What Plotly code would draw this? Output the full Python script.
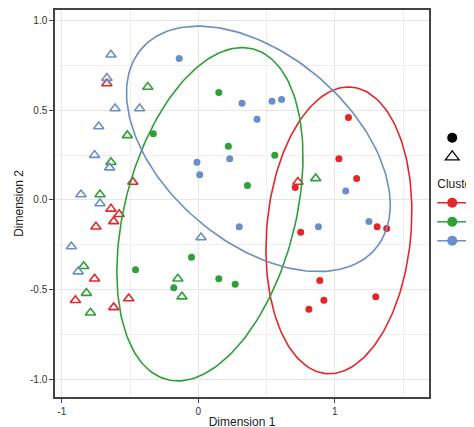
import numpy as np
import plotly.graph_objects as go

# Points: (cluster, type) -> x, y
A_BF_x = [1.10, 1.03, 1.16, 0.71, 0.75, 1.31, 1.38, 0.89, 0.92, 0.81, 1.30]
A_BF_y = [0.46, 0.23, 0.12, 0.07, -0.18, -0.15, -0.16, -0.45, -0.56, -0.61, -0.54]
A_PL_x = [-0.67, -0.48, -0.64, -0.58, -0.62, -0.75, -0.76, -0.90, -0.51, -0.62, 0.73]
A_PL_y = [0.65, 0.10, -0.05, -0.08, -0.12, -0.15, -0.44, -0.56, -0.55, -0.60, 0.10]
B_BF_x = [-0.33, -0.46, -0.18, 0.15, 0.22, 0.56, 0.36, -0.05, 0.15, 0.27]
B_BF_y = [0.37, -0.39, -0.49, 0.60, 0.30, 0.25, 0.08, -0.32, -0.44, -0.47]
B_PL_x = [-0.37, -0.52, -0.64, -0.72, -0.84, -0.82, -0.79, -0.15, -0.12, 0.86]
B_PL_y = [0.63, 0.36, 0.21, 0.03, -0.37, -0.52, -0.63, -0.44, -0.54, 0.12]
C_BF_x = [-0.14, 0.32, 0.54, 0.61, 0.43, -0.01, 0.23, 0.01, 1.08, 0.30, 0.88, 1.25]
C_BF_y = [0.79, 0.54, 0.55, 0.56, 0.45, 0.21, 0.23, 0.14, 0.05, -0.15, -0.15, -0.12]
C_PL_x = [-0.64, -0.67, -0.61, -0.43, -0.73, -0.76, -0.65, -0.86, -0.72, -0.93, -0.88, 0.02]
C_PL_y = [0.81, 0.68, 0.51, 0.51, 0.41, 0.25, 0.18, 0.03, -0.02, -0.26, -0.40, -0.21]

# Ellipses: center, conjugate half-diameters u and v
ell_A = dict(c=(1.03, -0.17), u=(0.53, 0.0), v=(0.07, 0.80))
ell_B = dict(c=(0.085, -0.08), u=(0.64, 0.0), v=(0.235, 0.93))
ell_C = dict(c=(0.44, 0.285), u=(0.86, 0.0), v=(-0.44, 0.685))

colors = {"A": "#E3262A", "B": "#2EA03A", "C": "#6A8EC8"}
data = {
    "A": (A_BF_x, A_BF_y, A_PL_x, A_PL_y, ell_A),
    "B": (B_BF_x, B_BF_y, B_PL_x, B_PL_y, ell_B),
    "C": (C_BF_x, C_BF_y, C_PL_x, C_PL_y, ell_C),
}

fig = go.Figure()
t = np.linspace(0, 2 * np.pi, 200)
for k, (bx, by, px, py, e) in data.items():
    col = colors[k]
    ex = e["c"][0] + e["u"][0] * np.cos(t) + e["v"][0] * np.sin(t)
    ey = e["c"][1] + e["u"][1] * np.cos(t) + e["v"][1] * np.sin(t)
    fig.add_trace(go.Scatter(x=ex, y=ey, mode="lines", line=dict(color=col, width=1.6),
                             showlegend=False, hoverinfo="skip"))
    fig.add_trace(go.Scatter(x=bx, y=by, mode="markers", showlegend=False,
                             marker=dict(symbol="circle", size=7, color=col)))
    fig.add_trace(go.Scatter(x=px, y=py, mode="markers", showlegend=False,
                             marker=dict(symbol="triangle-up-open", size=9, color=col,
                                         line=dict(width=1.6, color=col))))

# legend entries
fig.add_trace(go.Scatter(x=[None], y=[None], mode="markers", name="BF", legendgroup="t",
                         marker=dict(symbol="circle", size=10, color="black")))
fig.add_trace(go.Scatter(x=[None], y=[None], mode="markers", name="PL", legendgroup="t",
                         marker=dict(symbol="triangle-up-open", size=12, color="black",
                                     line=dict(width=1.2, color="black"))))
for i, k in enumerate(["A", "B", "C"]):
    fig.add_trace(go.Scatter(x=[None], y=[None], mode="lines+markers", name=k, legendgroup="c",
                             legendgrouptitle=dict(text="Cluster") if i == 0 else None,
                             line=dict(color=colors[k], width=1.6),
                             marker=dict(symbol="circle", size=10, color=colors[k])))

axis_common = dict(showgrid=True, gridcolor="#E6E6E6", gridwidth=1, zeroline=False,
                   showline=True, linecolor="#444", linewidth=1.5, mirror=True,
                   ticks="outside", ticklen=4, tickcolor="#444",
                   tickfont=dict(size=10, color="#333"), title_font=dict(size=12, color="#222"))
fig.update_xaxes(range=[-1.05, 1.69], tickvals=[-1, 0, 1], ticktext=["-1", "0", "1"],
                 title_text="Dimension 1", title_standoff=2, **axis_common)
fig.update_xaxes(minor=dict(tickvals=[-0.5, 0.5, 1.5], showgrid=True, gridcolor="#EFEFEF", ticks=""))
fig.update_yaxes(range=[-1.1, 1.06], tickvals=[-1.0, -0.5, 0, 0.5, 1.0],
                 ticktext=["-1.0", "-0.5", "0.0", "0.5", "1.0"],
                 title_text="Dimension 2", title_standoff=4, **axis_common)
fig.update_yaxes(minor=dict(tickvals=[-0.75, -0.25, 0.25, 0.75], showgrid=True, gridcolor="#EFEFEF", ticks=""))

fig.update_layout(
    width=474, height=427, paper_bgcolor="white", plot_bgcolor="white",
    margin=dict(l=47, r=53, t=2, b=38, autoexpand=False),
    font=dict(family="Liberation Sans, Arial", size=11, color="#222"),
    legend=dict(xref="container", yref="container", x=0.895, y=0.73,
                xanchor="left", yanchor="top", tracegroupgap=8,
                font=dict(size=12), itemwidth=30, groupclick="toggleitem",
                bgcolor="rgba(0,0,0,0)"),
)
fig.write_html("out.html")
